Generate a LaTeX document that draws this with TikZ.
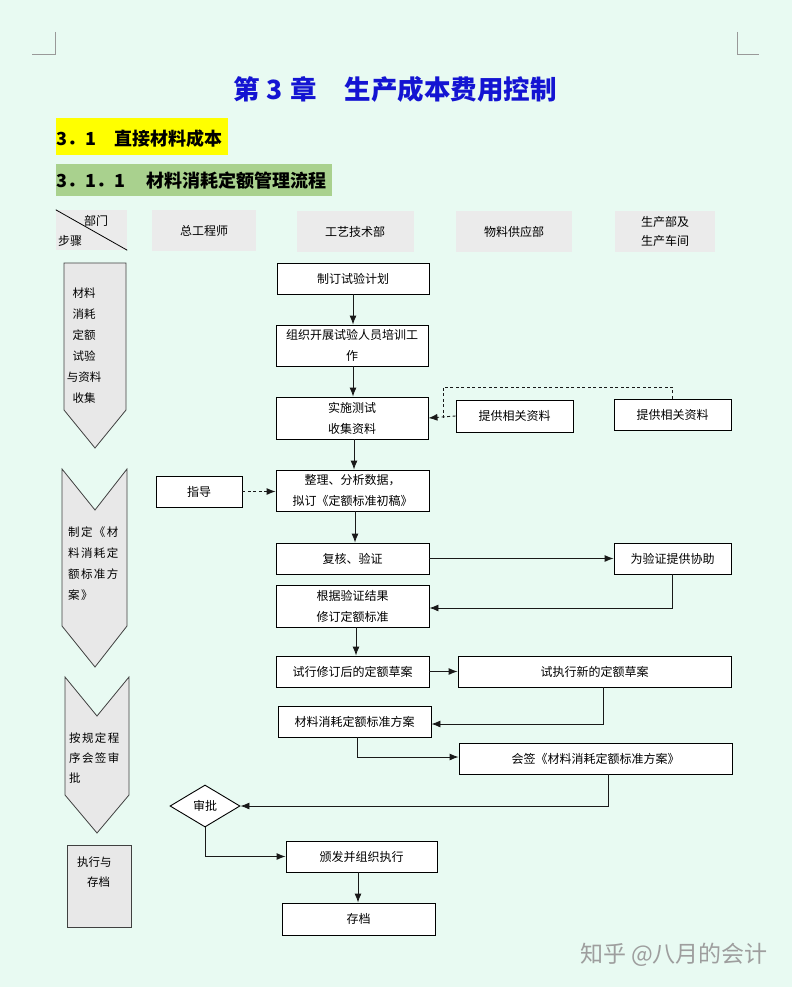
\documentclass[tikz,border=0pt]{standalone}
\usepackage{fontspec}
\setmainfont{Noto Sans CJK SC}
\newfontfamily\cjkwide{Noto Sans CJK SC}[LetterSpace=12]
\usetikzlibrary{arrows.meta,shapes.geometric}
\definecolor{bg}{HTML}{E8FAF2}
\definecolor{titleblue}{RGB}{20,20,210}
\definecolor{hlyellow}{HTML}{FFFF00}
\definecolor{hlgreen}{HTML}{A9D18E}
\definecolor{hdrfill}{HTML}{EBEBEB}
\definecolor{stagefill}{HTML}{E8E8E8}
\tikzset{
  box/.style={draw=black, fill=white, line width=0.9pt, inner sep=0pt, align=center,
              font=\fontsize{12}{21}\selectfont},
  hdr/.style={fill=hdrfill, inner sep=0pt, align=center, font=\fontsize{12}{19}\selectfont},
  stage/.style={draw=black!75, fill=stagefill, line width=0.8pt},
  stagetxt/.style={inner sep=0pt, font=\fontsize{11.5}{21}\selectfont},
  arr/.style={draw=black!90, line width=0.9pt, -{Latex[length=9pt,width=7pt]}},
  darr/.style={arr, dash pattern=on 3pt off 2.5pt},
  dline/.style={draw=black!90, line width=0.9pt, dash pattern=on 3pt off 2.5pt},
  corner/.style={draw=black!40, line width=0.8pt}
}
\begin{document}
\begin{tikzpicture}[x=1pt,y=-1pt]
\fill[bg] (0,0) rectangle (792,987);
\useasboundingbox (0,0) rectangle (792,987);

% page corner marks
\draw[corner] (55,32) -- (55,54) -- (32,54);
\draw[corner] (737,32) -- (737,54) -- (759,54);

% title and headings
\node[font=\fontsize{26.5}{30}\bfseries, text=titleblue, inner sep=0pt] (title) at (395,89) {第\hspace{7pt}3\hspace{7pt}章\hspace{28pt}生产成本费用控制};
\node[fill=hlyellow, minimum width=172pt, minimum height=37pt, inner sep=0pt] (sec) at (142,136.5) {};
\node[font=\fontsize{18}{22}\bfseries, anchor=west, inner sep=0pt] (sectxt) at (56,139) {3．1　直接材料成本};
\node[fill=hlgreen, minimum width=276pt, minimum height=32pt, inner sep=0pt] (sub) at (194,180) {};
\node[font=\fontsize{18}{22}\bfseries, anchor=west, inner sep=0pt] (subtxt) at (56,181) {3．1．1\hspace{3pt}　材料消耗定额管理流程};

% column headers
\node[hdr, minimum width=71pt, minimum height=40pt] (h0) at (91.5,230) {};
\draw[black, line width=0.8pt] (h0.north west) -- (h0.south east);
\node[hdr, fill=none] (h0a) at (96,221) {部门};
\node[hdr, fill=none] (h0b) at (70,241) {步骤};
\node[hdr, minimum width=104pt, minimum height=41pt] (h1) at (204,230.5) {总工程师};
\node[hdr, minimum width=117pt, minimum height=41pt] (h2) at (355,231.5) {工艺技术部};
\node[hdr, minimum width=116pt, minimum height=41pt] (h3) at (514,231.5) {物料供应部};
\node[hdr, minimum width=100pt, minimum height=41pt] (h4) at (665,231.5) {生产部及\\生产车间};

% stage chevrons
\draw[stage] (64,263) -- (126,263) -- (126,410) -- (95,448) -- (64,410) -- cycle;
\node[stagetxt, align=center] (s1) at (84,345.5) {材料\\消耗\\定额\\试验\\与资料\\收集};
\draw[stage] (62,469) -- (95,510) -- (127,469) -- (127,626) -- (95,667) -- (62,626) -- cycle;
\node[stagetxt, align=left, anchor=west, font=\fontsize{11.5}{21}\cjkwide] (s2) at (68,563.5) {制定《材\\料消耗定\\额标准方\\案》};
\draw[stage] (65,677) -- (97,716) -- (129,677) -- (129,795) -- (97,833) -- (65,795) -- cycle;
\node[stagetxt, align=left, anchor=west, font=\fontsize{11.5}{20}\cjkwide] (s3) at (69,758) {按规定程\\序会签审\\批};
\draw[stage] (67,845) rectangle (131,927);
\node[stagetxt, align=left, anchor=west, font=\fontsize{11.5}{20}\selectfont] (s4) at (77,872) {执行与\\\hspace{10pt}存档};

% process boxes
\node[box, minimum width=152pt, minimum height=31pt] (A) at (353,278.5) {制订试验计划};
\node[box, minimum width=152pt, minimum height=41pt] (B) at (352,345.5) {组织开展试验人员培训工\\作};
\node[box, minimum width=152pt, minimum height=42pt] (C) at (352,418) {实施测试\\收集资料};
\node[box, minimum width=117pt, minimum height=32pt] (D1) at (514.5,416) {提供相关资料};
\node[box, minimum width=117pt, minimum height=31pt] (D2) at (672.5,414.5) {提供相关资料};
\node[box, minimum width=153pt, minimum height=41pt] (E) at (352.5,490.5) {整理、分析数据，\\拟订《定额标准初稿》};
\node[box, minimum width=86pt, minimum height=31pt] (G) at (199,491.5) {指导};
\node[box, minimum width=153pt, minimum height=31pt] (F) at (352.5,558.5) {复核、验证};
\node[box, minimum width=117pt, minimum height=31pt] (H) at (672.5,558.5) {为验证提供协助};
\node[box, minimum width=153pt, minimum height=42pt] (I) at (352.5,606) {根据验证结果\\修订定额标准};
\node[box, minimum width=153pt, minimum height=31pt] (J) at (352.5,671.5) {试行修订后的定额草案};
\node[box, minimum width=273pt, minimum height=31pt] (K) at (594.5,671.5) {试执行新的定额草案};
\node[box, minimum width=153pt, minimum height=31pt] (L) at (354.5,721.5) {材料消耗定额标准方案};
\node[box, minimum width=273pt, minimum height=31pt] (M) at (595.5,758.5) {会签《材料消耗定额标准方案》};
\node[box, shape=diamond, minimum width=70pt, minimum height=42pt] (N) at (205,806) {审批};
\node[box, minimum width=151pt, minimum height=31pt] (O) at (361.5,856.5) {颁发并组织执行};
\node[box, minimum width=153pt, minimum height=32pt] (P) at (358.5,919) {存档};

% connectors
\draw[arr] (A.south) -- (A.south |- B.north);
\draw[arr] ([xshift=1pt]B.south) -- ([xshift=1pt]B.south |- C.north);
\draw[arr] ([xshift=2pt]C.south) -- ([xshift=2pt]C.south |- E.north);
\draw[arr] ([xshift=2.5pt]E.south) -- ([xshift=2.5pt]E.south |- F.north);
\draw[darr] (D1.west) -- (C.east);
\coordinate (dtop) at (443,387);
\coordinate (djoin) at (443,418);
\draw[dline] (D2.north) |- (dtop) -- (djoin);
\draw[darr] (G.east) -- (E.west |- G.east);
\draw[arr] (F.east) -- (H.west);
\draw[arr] (H.south) |- ([yshift=-2pt]I.east);
\draw[arr] ([xshift=3.5pt]I.south) -- ([xshift=3.5pt]I.south |- J.north);
\draw[arr] (J.east) -- (K.west);
\draw[arr] ([xshift=8.5pt]K.south) |- ([yshift=-2.5pt]L.east);
\draw[arr] ([xshift=2.5pt]L.south) |- ([yshift=1.5pt]M.west);
\draw[arr] ([xshift=12.5pt]M.south) |- (N.east);
\draw[arr] (N.south) |- (O.west);
\draw[arr] ([xshift=-3.5pt]O.south) -- ([xshift=-3.5pt]O.south |- P.north);

% watermark
\node[font=\fontsize{23}{26}\selectfont, text=black!38, inner sep=0pt] (wm) at (674,955) {知乎 @八月的会计};
\end{tikzpicture}
\end{document}
